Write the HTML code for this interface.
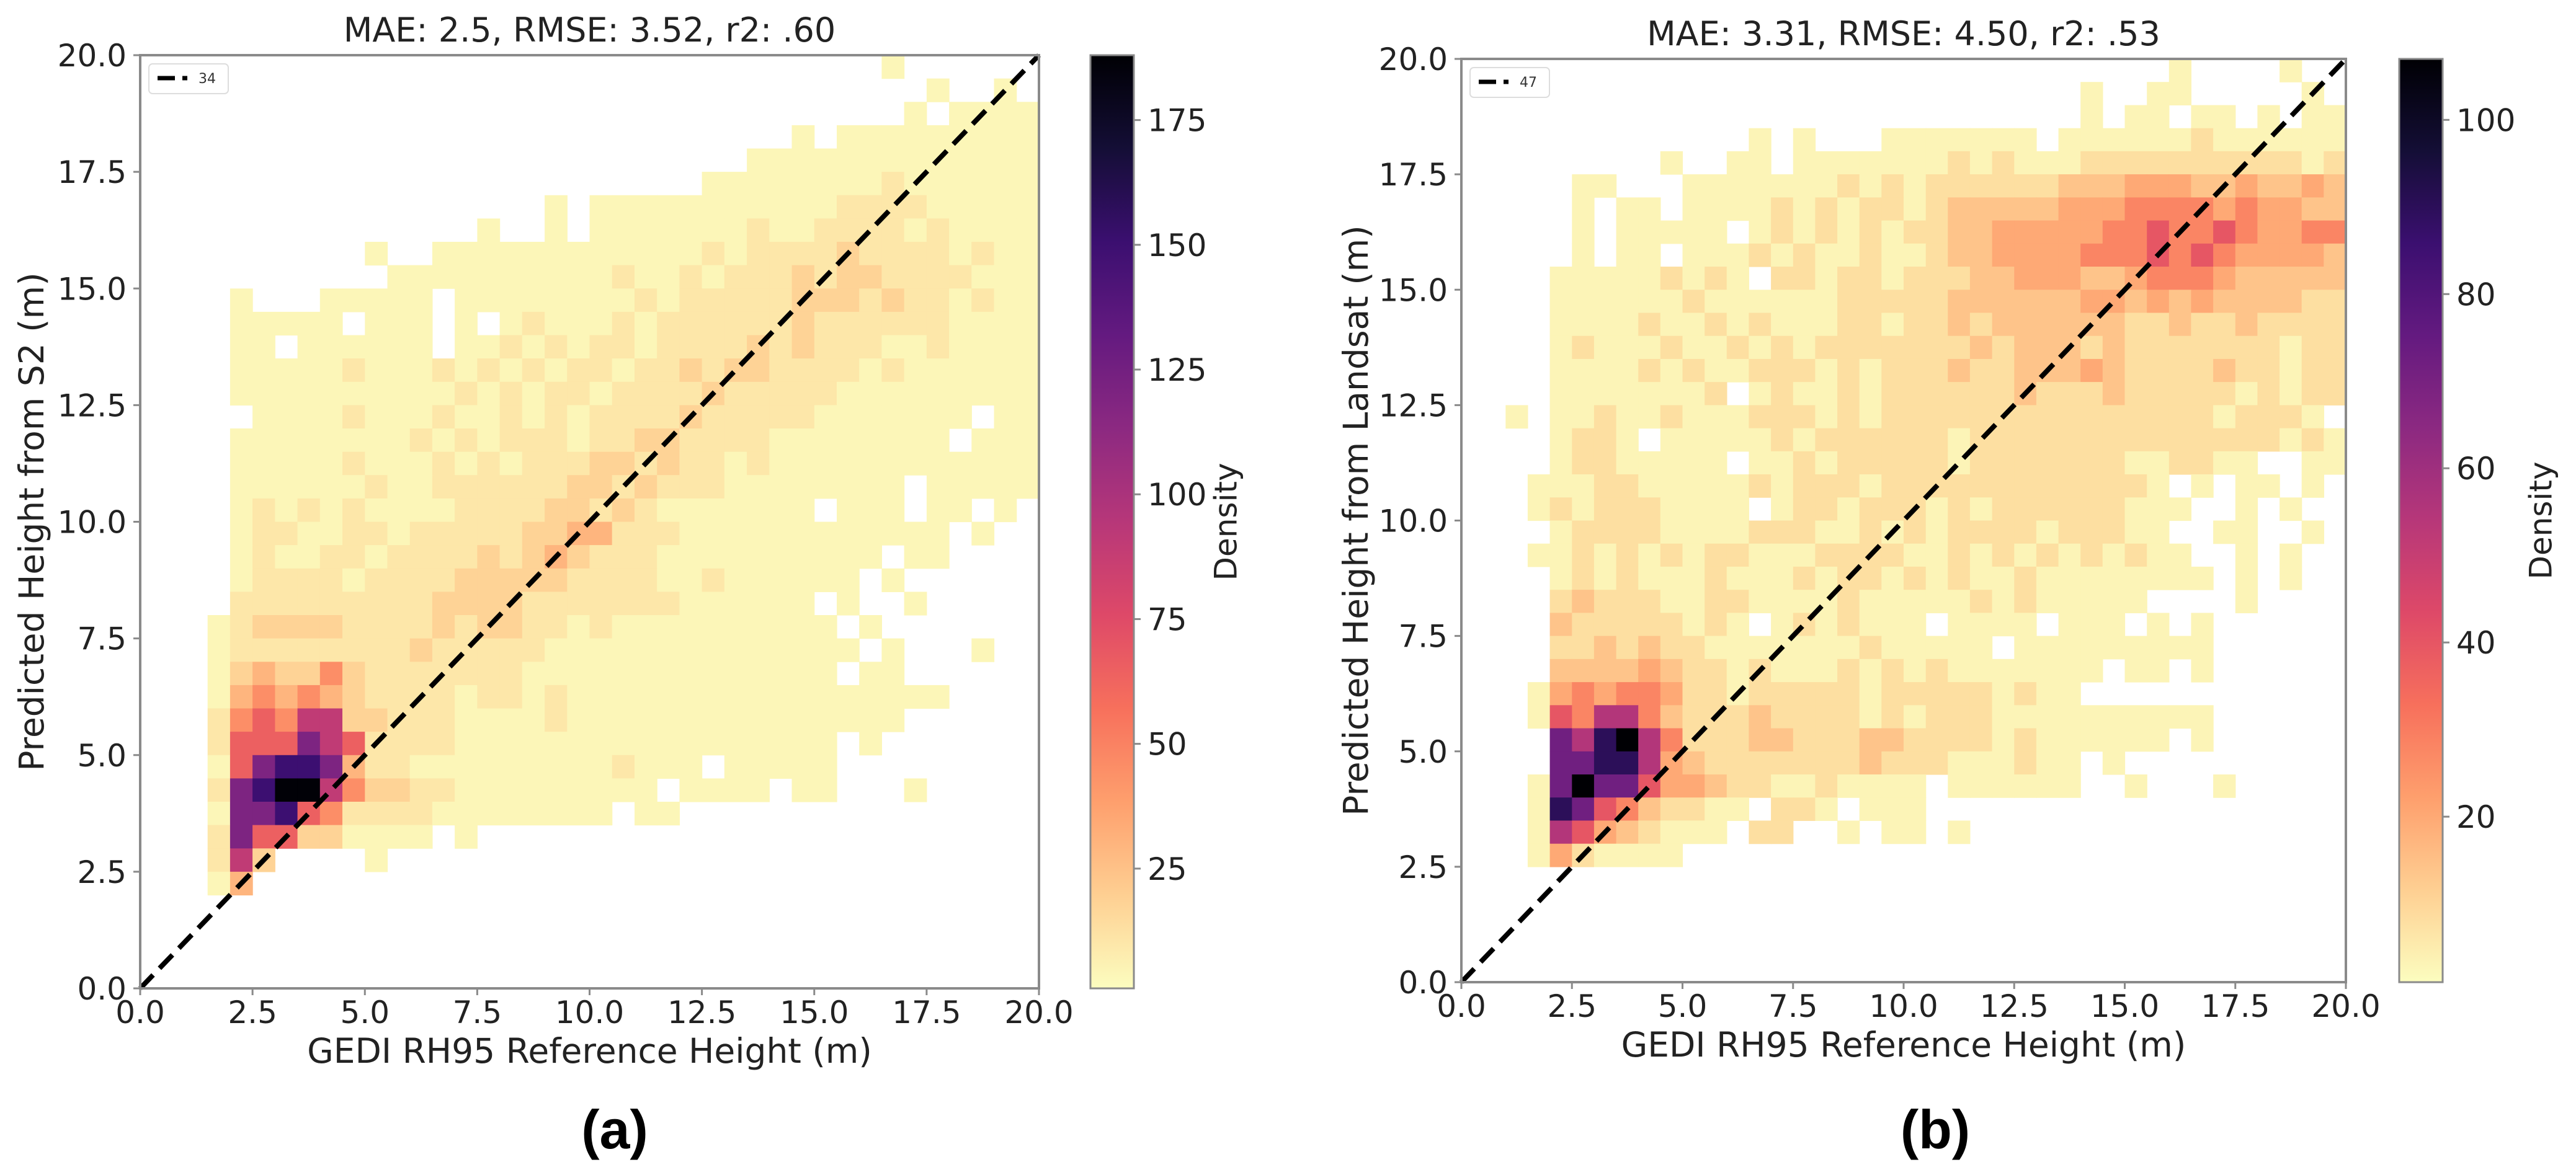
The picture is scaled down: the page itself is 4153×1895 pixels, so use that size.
<!DOCTYPE html>
<html><head><meta charset="utf-8">
<style>
html,body{margin:0;padding:0;background:#fff;}
svg{display:block;font-family:"DejaVu Sans","Liberation Sans",sans-serif;}
</style></head>
<body>
<svg id="fig" width="4153" height="1895" viewBox="0 0 4153 1895" xmlns="http://www.w3.org/2000/svg">
<defs>
<linearGradient id="magmaR" x1="0" y1="1" x2="0" y2="0">
<stop offset="0" stop-color="#fcfdbf"/><stop offset="0.1" stop-color="#fecf92"/><stop offset="0.2" stop-color="#fe9f6d"/><stop offset="0.3" stop-color="#f7705c"/><stop offset="0.4" stop-color="#de4968"/><stop offset="0.5" stop-color="#b73779"/><stop offset="0.6" stop-color="#8c2981"/><stop offset="0.7" stop-color="#641a80"/><stop offset="0.8" stop-color="#3b0f70"/><stop offset="0.9" stop-color="#140e36"/><stop offset="1" stop-color="#000004"/>
</linearGradient>
</defs>
</svg>
<script>
// ---- data ----
const binStartX = 1.0;
const binTopY = 20.0;
const binSize = 0.5;
const rowsA = [
"..|....|....|....|....|....|....|....|.1..|....",
"..|....|....|....|....|....|....|....|...1|..1.",
"..|....|....|....|....|....|....|....|..1.|1111",
"..|....|....|....|....|....|....|.1.1|1111|1111",
"..|....|....|....|....|....|...1|1111|1111|1111",
"..|....|....|....|....|....|.111|1111|1211|1111",
"..|....|....|....|..1.|1111|1111|1112|2221|1111",
"..|....|....|...1|..1.|1111|1112|1122|2212|1111",
"..|....|..1.|.111|1111|1111|1212|2223|2222|1211",
"..|....|...1|1111|1111|1211|2122|2323|3222|2111",
"..|1...|1111|1.11|1111|1121|2222|2333|2322|1211",
"..|1111|1.11|1.1.|1211|1212|2222|2322|2222|1111",
"..|11.1|1111|1.11|2121|2212|2223|2322|2112|1111",
"..|1111|1211|1212|1212|2122|3233|2222|1211|1111",
"..|1111|1111|1121|2122|1222|2322|2221|1111|1111",
"..|.111|1211|1211|2121|2222|3222|2211|1111|1.11",
"..|1111|1111|2121|2221|2233|2222|1111|1111|.111",
"..|1111|1211|1212|1222|3323|2212|1111|1111|1111",
"..|1111|1121|1222|2223|3232|2211|1111|11.1|1111",
"..|1212|1211|1122|2233|2321|1111|11.1|11.1|1.1.",
"..|1221|1221|2222|2334|4222|1111|1111|1111|.1..",
"..|1211|2212|2223|2343|2221|1111|1111|1.11|....",
"..|1222|2122|2233|3332|2221|1211|1111|.1..|....",
"..|2222|2222|2333|3222|2222|1111|11.1|..1.|....",
".1|2333|3222|2323|3221|2111|1111|111.|1...|....",
".1|2222|2222|3222|2211|1111|1111|1111|.1..|.1..",
".1|3433|5322|2222|2111|1111|1111|111.|11..|....",
".1|4545|4322|2212|2121|1111|1111|1111|1111|....",
".2|5657|7332|2211|1121|1111|1111|1111|11..|....",
".2|6668|7622|2211|1111|1111|1111|111.|1...|....",
".1|6899|8422|1111|1111|1211|1.11|111.|....|....",
".2|89XX|7533|2211|1111|111.|1111|.11.|..1.|....",
".1|8896|5222|2111|1111|1.11|....|....|....|....",
".2|8663|3111|1.1.|....|....|....|....|....|....",
".2|73..|..1.|....|....|....|....|....|....|....",
".1|4...|....|....|....|....|....|....|....|...."
];
const rowsB = [
"..|....|....|....|....|....|....|....|1...|.1..",
"..|....|....|....|....|....|....|1..1|1...|..1.",
"..|....|....|....|....|....|....|1.11|.11.|1.11",
"..|....|....|.1.1|...1|1111|11.1|1111|1211|1111",
"..|....|.1..|11.1|1111|1121|2111|2222|2222|2212",
"..|.11.|..11|1111|1212|1222|2223|3344|4334|3343",
"..|.1.1|1.11|1121|2122|1233|3334|4455|5545|4433",
"..|.1.1|1111|.121|2121|2233|4444|4556|5565|4455",
"..|.1.1|1.11|1212|1121|1233|4444|5556|5654|4443",
"..|1111|1212|1.22|1221|2223|3444|3345|5543|3333",
"..|1111|1121|1111|1222|2233|3333|4434|3433|3322",
"..|1111|2112|1211|1221|2232|3333|3322|3223|2222",
"..|1211|1211|2121|2222|2223|2333|2322|2222|2122",
"..|1111|2121|1222|1212|2232|2333|4322|2232|2122",
"..|1111|1112|.121|1212|2222|2322|2322|2221|2122",
"1.|1121|1211|1222|1212|2222|2222|2222|2212|221.",
"..|1221|.111|1121|2222|2212|2222|2222|2222|2121",
"..|1221|1111|.112|1222|2212|2222|2211|2211|..11",
".1|1122|1111|1212|2212|2222|2222|2221|.1.1|1.1.",
".1|2122|2111|1.12|2122|2121|2222|2211|1..1|.1..",
"..|1222|2111|1222|1121|2122|2212|2211|..11|..1.",
".1|1212|1212|2111|2222|1121|2121|2121|1..1|.1..",
"..|1212|1112|1112|1221|2121|1211|1111|11.1|.1..",
"..|2322|2112|2111|1211|1112|1211|111.|...1|....",
"..|3222|2212|1.12|1211|1.11|11.1|11.1|.1..|....",
"..|2232|3221|1111|1121|1111|.111|1111|11..|....",
"..|3333|4322|1211|1212|1211|1111|1.11|.1..|....",
".1|4545|5422|1222|2212|2222|1211|....|....|....",
".1|6577|5322|2322|2212|1222|1111|1111|11..|....",
"..|879X|7522|2332|2233|2222|1211|1111|.1..|....",
"..|8899|7432|2222|2232|2211|1211|.1..|....|....",
".1|8X88|6443|2211|2111|1.11|1111|..1.|..1.|....",
".1|9865|3221|1.22|1.11|1...|....|....|....|....",
".1|7643|2111|.22.|.1.1|1.1.|....|....|....|....",
".1|4211|11..|....|....|....|....|....|....|...."
];
const levelKeys = ['1','2','3','4','5','6','7','8','9','X'];
const levelValsA = [4,10,18,30,45,65,90,120,150,187];
const levelValsB = [3,8,14,20,28,40,55,72,90,107];
const axisTicks = [0,2.5,5,7.5,10,12.5,15,17.5,20];
const axisTickLabels = ['0.0','2.5','5.0','7.5','10.0','12.5','15.0','17.5','20.0'];
const cbTicksA = [25,50,75,100,125,150,175];
const cbTicksB = [20,40,60,80,100];
const cbRangeA = [1,188];
const cbRangeB = [1,107];
const legendA = '34';
const legendB = '47';

// ---- layout ----
const NS = 'http://www.w3.org/2000/svg';
const svg = document.getElementById('fig');
const panels = [
 {id:'a', x0:226, x1:1675, y0:89, y1:1594, cb0:1758, cb1:1828, rows:rowsA, vals:levelValsA, cbTicks:cbTicksA, cbRange:cbRangeA, legend:legendA,
  title:'MAE: 2.5, RMSE: 3.52, r2: .60', ylabel:'Predicted Height from S2 (m)', ylabX:55, cbLabX:1980, tag:'(a)', tagX:991},
 {id:'b', x0:2356, x1:3782, y0:95, y1:1584, cb0:3868, cb1:3938, rows:rowsB, vals:levelValsB, cbTicks:cbTicksB, cbRange:cbRangeB, legend:legendB,
  title:'MAE: 3.31, RMSE: 4.50, r2: .53', ylabel:'Predicted Height from Landsat (m)', ylabX:2190, cbLabX:4100, tag:'(b)', tagX:3120}
];
const magma = ['#fcfdbf','#fecf92','#fe9f6d','#f7705c','#de4968','#b73779','#8c2981','#641a80','#3b0f70','#140e36','#000004'];
function hex(h){return [parseInt(h.substr(1,2),16),parseInt(h.substr(3,2),16),parseInt(h.substr(5,2),16)];}
function cmap(t){t=Math.max(0,Math.min(1,t));const f=t*10;const i=Math.min(9,Math.floor(f));const r=f-i;const a=hex(magma[i]),b=hex(magma[i+1]);
 return 'rgb('+a.map((v,k)=>Math.round(v+(b[k]-v)*r)).join(',')+')';}
function mk(tag,attrs,parent){const e=document.createElementNS(NS,tag);for(const k in attrs)e.setAttribute(k,attrs[k]);(parent||svg).appendChild(e);return e;}

panels.forEach(p=>{
 const xs=v=>p.x0+v/20*(p.x1-p.x0);
 const ys=v=>p.y1-v/20*(p.y1-p.y0);
 const g=mk('g',{});
 
 
 p.rows.forEach((s,ri)=>{
  const row=s.replace(/\|/g,'');
  const yTop=binTopY-ri*binSize;
  for(let ci=0;ci<row.length;ci++){
   const k=levelKeys.indexOf(row[ci]); if(k<0) continue;
   const v=p.vals[k];
   const xL=binStartX+ci*binSize;
   const c=mk('rect',{x:xs(xL).toFixed(1),y:ys(yTop).toFixed(1),width:(xs(xL+binSize)-xs(xL)+0.6).toFixed(1),height:(ys(yTop-binSize)-ys(yTop)+0.6).toFixed(1),
    fill:cmap((v-p.cbRange[0])/(p.cbRange[1]-p.cbRange[0]))},g);
   
   
  }
 });
 const d=mk('line',{x1:xs(0),y1:ys(0),x2:xs(20),y2:ys(20),stroke:'#000','stroke-width':8,'stroke-dasharray':'30,15'},g);
 
 
 const fr=mk('rect',{x:p.x0,y:p.y0,width:p.x1-p.x0,height:p.y1-p.y0,fill:'none',stroke:'#8a8a8a','stroke-width':4},g);
 
 
 axisTicks.forEach((t,i)=>{
  mk('line',{x1:xs(t),y1:p.y1,x2:xs(t),y2:p.y1+11,stroke:'#8a8a8a','stroke-width':3},g);
  const tx=mk('text',{x:xs(t),y:p.y1+56,'font-size':50,'text-anchor':'middle',fill:'#222'},g);
  tx.textContent=axisTickLabels[i];
  
  
  mk('line',{x1:p.x0-11,y1:ys(t),x2:p.x0,y2:ys(t),stroke:'#8a8a8a','stroke-width':3},g);
  const ty=mk('text',{x:p.x0-22,y:ys(t)+18,'font-size':50,'text-anchor':'end',fill:'#222'},g);
  ty.textContent=axisTickLabels[i];
  
  
 });
 const ti=mk('text',{x:(p.x0+p.x1)/2,y:p.y0-22,'font-size':54,'text-anchor':'middle',fill:'#222'},g);
 ti.textContent=p.title;
 
 
 const xl=mk('text',{x:(p.x0+p.x1)/2,y:p.y1+120,'font-size':55,'text-anchor':'middle',fill:'#222'},g);
 xl.textContent='GEDI RH95 Reference Height (m)';
 
 
 const yl=mk('text',{x:p.ylabX,y:(p.y0+p.y1)/2,'font-size':55,'text-anchor':'middle',fill:'#222',transform:'rotate(-90 '+p.ylabX+' '+(p.y0+p.y1)/2+')','dominant-baseline':'middle'},g);
 yl.textContent=p.ylabel;
 
 
 const lg=mk('g',{},g);
 
 
 mk('rect',{x:p.x0+14,y:p.y0+14,width:128,height:48,rx:6,fill:'#fff',stroke:'#ddd','stroke-width':2},lg);
 mk('line',{x1:p.x0+28,y1:p.y0+37,x2:p.x0+56,y2:p.y0+37,stroke:'#000','stroke-width':7},lg);
 mk('line',{x1:p.x0+68,y1:p.y0+37,x2:p.x0+76,y2:p.y0+37,stroke:'#000','stroke-width':7},lg);
 const lt=mk('text',{x:p.x0+94,y:p.y0+45,'font-size':22,fill:'#333'},lg);
 lt.textContent=p.legend;
 
 
 const cb=mk('rect',{x:p.cb0,y:p.y0,width:p.cb1-p.cb0,height:p.y1-p.y0,fill:'url(#magmaR)',stroke:'#8a8a8a','stroke-width':3},g);
 
 
 const cys=v=>p.y1-(v-p.cbRange[0])/(p.cbRange[1]-p.cbRange[0])*(p.y1-p.y0);
 p.cbTicks.forEach(t=>{
  mk('line',{x1:p.cb1,y1:cys(t),x2:p.cb1+11,y2:cys(t),stroke:'#8a8a8a','stroke-width':3},g);
  const ct=mk('text',{x:p.cb1+22,y:cys(t)+18,'font-size':50,fill:'#222'},g);
  ct.textContent=String(t);
  
  
 });
 const cl=mk('text',{x:p.cbLabX,y:(p.y0+p.y1)/2,'font-size':50,'text-anchor':'middle',fill:'#222',transform:'rotate(-90 '+p.cbLabX+' '+(p.y0+p.y1)/2+')','dominant-baseline':'middle'},g);
 cl.textContent='Density';
 
 
 const tg=mk('text',{x:p.tagX,y:1852,'font-size':88,'font-weight':'bold','text-anchor':'middle',fill:'#000','font-family':'Liberation Sans, sans-serif'},g);
 tg.textContent=p.tag;
 
 
});
</script>
</body></html>
